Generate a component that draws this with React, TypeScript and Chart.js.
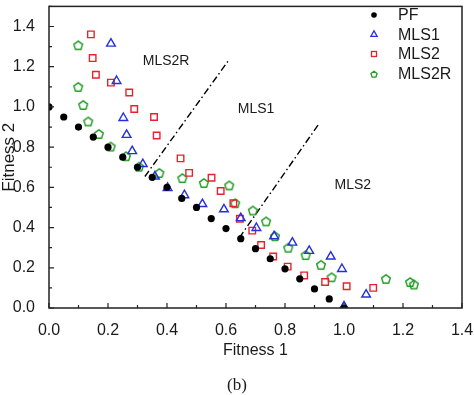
import React, { useEffect, useRef } from "react";
import { Chart, registerables } from "chart.js";

Chart.register(...registerables);

// ---- data ----
const PF_X = [0.0, 0.05, 0.1, 0.15, 0.2, 0.25, 0.3, 0.35, 0.4, 0.45, 0.5, 0.55, 0.6, 0.65, 0.7, 0.75, 0.8, 0.85, 0.9, 0.95, 1.0];
const PF_Y = [1.0, 0.95, 0.9, 0.85, 0.8, 0.75, 0.7, 0.65, 0.6, 0.545, 0.5, 0.445, 0.395, 0.345, 0.295, 0.245, 0.195, 0.145, 0.095, 0.045, 0.0];

const MLS1_X = [0.21, 0.229, 0.252, 0.263, 0.282, 0.318, 0.359, 0.402, 0.459, 0.52, 0.593, 0.65, 0.703, 0.763, 0.825, 0.882, 0.955, 0.993, 1.075, 1.0];
const MLS1_Y = [1.315, 1.129, 0.945, 0.861, 0.78, 0.716, 0.654, 0.597, 0.561, 0.517, 0.491, 0.447, 0.398, 0.357, 0.325, 0.284, 0.256, 0.194, 0.067, 0.008];

const MLS2_X = [0.142, 0.148, 0.159, 0.21, 0.272, 0.289, 0.356, 0.365, 0.446, 0.475, 0.551, 0.582, 0.625, 0.647, 0.689, 0.719, 0.76, 0.809, 0.865, 0.936, 1.009, 1.099];
const MLS2_Y = [1.361, 1.243, 1.16, 1.121, 1.072, 0.99, 0.95, 0.858, 0.744, 0.672, 0.648, 0.582, 0.521, 0.444, 0.385, 0.313, 0.256, 0.206, 0.162, 0.129, 0.108, 0.1];

const MLS2R_X = [0.099, 0.099, 0.116, 0.133, 0.169, 0.209, 0.261, 0.305, 0.374, 0.452, 0.525, 0.611, 0.631, 0.691, 0.736, 0.766, 0.811, 0.87, 0.922, 0.958, 1.142, 1.224, 1.237];
const MLS2R_Y = [1.307, 1.1, 1.01, 0.928, 0.866, 0.803, 0.755, 0.703, 0.672, 0.646, 0.622, 0.61, 0.521, 0.485, 0.431, 0.357, 0.3, 0.263, 0.215, 0.153, 0.145, 0.129, 0.117];

const LINE1_X = [0.325, 0.608];
const LINE1_Y = [0.654, 1.23];
const LINE2_X = [0.645, 0.913];
const LINE2_Y = [0.349, 0.912];

const REGION_LABELS = ["MLS2R", "MLS1", "MLS2"];
const REGION_X = [0.397, 0.702, 1.03];
const REGION_Y = [1.227, 0.989, 0.613];

const SERIES_NAMES = ["PF", "MLS1", "MLS2", "MLS2R"];
const X_TITLE = "Fitness 1";
const Y_TITLE = "Fitness 2";
const CAPTION = "(b)";

// ---- styles ----
const FONT = "'Liberation Sans', Arial, sans-serif";
const BLACK = "#000000";
const BLUE = "#2430e0";
const RED = "#e8222c";
const GREEN = "#1f9a22";
const TEXT = "#1a1a1a";

const pts = (xs: number[], ys: number[]) => xs.map((x, i) => ({ x, y: ys[i] }));

function pentagonPath(ctx: CanvasRenderingContext2D, cx: number, cy: number, r: number) {
  ctx.beginPath();
  for (let i = 0; i < 5; i++) {
    const a = -Math.PI / 2 + (i * 2 * Math.PI) / 5;
    const px = cx + r * Math.cos(a);
    const py = cy + r * Math.sin(a);
    if (i === 0) ctx.moveTo(px, py);
    else ctx.lineTo(px, py);
  }
  ctx.closePath();
}

function makePentagon(r: number, color: string, lw: number) {
  const s = Math.ceil(2 * r + lw * 2 + 2);
  const c = document.createElement("canvas");
  c.width = s;
  c.height = s;
  const ctx = c.getContext("2d")!;
  ctx.strokeStyle = color;
  ctx.lineWidth = lw;
  pentagonPath(ctx, s / 2, s / 2 + 0.5, r);
  ctx.stroke();
  return c;
}

const decorPlugin = {
  id: "decor",
  afterDraw(chart: any) {
    const { ctx, chartArea: a, scales } = chart;
    const xs = scales.x;
    const ys = scales.y;
    ctx.save();
    // frame
    ctx.strokeStyle = "#222";
    ctx.lineWidth = 1.5;
    ctx.strokeRect(a.left, a.top, a.right - a.left, a.bottom - a.top);
    // inward ticks
    ctx.lineWidth = 1.2;
    ctx.beginPath();
    for (let v = 0; v <= 1.4001; v += 0.1) {
      const major = Math.round(v * 10) % 2 === 0;
      const px = xs.getPixelForValue(v);
      ctx.moveTo(px, a.bottom);
      ctx.lineTo(px, a.bottom - (major ? 5 : 3));
    }
    for (let v = 0; v <= 1.5001; v += 0.1) {
      const major = Math.round(v * 10) % 2 === 0;
      const py = ys.getPixelForValue(v);
      ctx.moveTo(a.left, py);
      ctx.lineTo(a.left + (major ? 5 : 3), py);
    }
    ctx.stroke();

    // region labels
    ctx.fillStyle = TEXT;
    ctx.font = `14px ${FONT}`;
    ctx.textAlign = "center";
    ctx.textBaseline = "middle";
    REGION_LABELS.forEach((t, i) => {
      ctx.fillText(t, xs.getPixelForValue(REGION_X[i]), ys.getPixelForValue(REGION_Y[i]));
    });

    // legend
    const lx = 374;
    const rows = [15, 34.5, 54, 74];
    ctx.font = `16px ${FONT}`;
    ctx.textAlign = "left";
    SERIES_NAMES.forEach((name, i) => {
      const y = rows[i];
      ctx.lineWidth = 1.3;
      if (i === 0) {
        ctx.fillStyle = BLACK;
        ctx.beginPath();
        ctx.arc(lx, y, 2.8, 0, Math.PI * 2);
        ctx.fill();
      } else if (i === 1) {
        ctx.strokeStyle = BLUE;
        const r = 3.6;
        ctx.beginPath();
        ctx.moveTo(lx, y - r);
        ctx.lineTo(lx + r * 0.866, y + r * 0.5);
        ctx.lineTo(lx - r * 0.866, y + r * 0.5);
        ctx.closePath();
        ctx.stroke();
      } else if (i === 2) {
        ctx.strokeStyle = RED;
        ctx.strokeRect(lx - 2.5, y - 2.5, 5, 5);
      } else {
        ctx.strokeStyle = GREEN;
        pentagonPath(ctx, lx, y + 0.5, 3.2);
        ctx.stroke();
      }
      ctx.fillStyle = TEXT;
      ctx.fillText(name, 398, y + 1);
    });

    // caption
    ctx.font = `17px 'Liberation Serif', 'Times New Roman', serif`;
    ctx.textAlign = "center";
    ctx.fillStyle = TEXT;
    ctx.fillText(CAPTION, 237, 386);
    ctx.restore();
  },
};

export default function App() {
  const ref = useRef<HTMLCanvasElement | null>(null);

  useEffect(() => {
    if (!ref.current) return;
    const pent = makePentagon(4.6, GREEN, 1.4);
    const lineStyle = {
      type: "line" as const,
      showLine: true,
      borderColor: BLACK,
      borderWidth: 1.4,
      borderDash: [7, 3, 1.5, 3],
      pointRadius: 0,
      fill: false,
    };
    const chart = new Chart(ref.current, {
      type: "scatter",
      data: {
        datasets: [
          {
            label: SERIES_NAMES[0],
            data: pts(PF_X, PF_Y),
            pointStyle: "circle",
            pointRadius: 3.6,
            backgroundColor: BLACK,
            borderColor: BLACK,
            borderWidth: 0,
          },
          {
            label: SERIES_NAMES[1],
            data: pts(MLS1_X, MLS1_Y),
            pointStyle: "triangle",
            pointRadius: 5,
            backgroundColor: "rgba(0,0,0,0)",
            borderColor: BLUE,
            borderWidth: 1.4,
          },
          {
            label: SERIES_NAMES[2],
            data: pts(MLS2_X, MLS2_Y),
            pointStyle: "rect",
            pointRadius: 4.6,
            backgroundColor: "rgba(0,0,0,0)",
            borderColor: RED,
            borderWidth: 1.4,
          },
          {
            label: SERIES_NAMES[3],
            data: pts(MLS2R_X, MLS2R_Y),
            pointStyle: pent as any,
            pointRadius: 5,
            backgroundColor: "rgba(0,0,0,0)",
            borderColor: GREEN,
            borderWidth: 1.4,
          },
          { ...lineStyle, label: "b1", data: pts(LINE1_X, LINE1_Y) } as any,
          { ...lineStyle, label: "b2", data: pts(LINE2_X, LINE2_Y) } as any,
        ],
      },
      options: {
        animation: false,
        responsive: false,
        events: [],
        layout: { padding: { left: 0, right: 12, top: 2, bottom: 0 } },
        plugins: {
          legend: { display: false },
          tooltip: { enabled: false },
        },
        scales: {
          x: {
            type: "linear",
            min: 0,
            max: 1.4,
            grid: { display: false },
            border: { display: false },
            ticks: {
              stepSize: 0.2,
              padding: 5,
              color: TEXT,
              font: { family: FONT, size: 16 },
              callback: (v: any) => Number(v).toFixed(1),
            },
            title: {
              display: true,
              text: X_TITLE,
              color: TEXT,
              font: { family: FONT, size: 16 },
              padding: { top: 0, bottom: 35 },
            },
            afterFit: (s: any) => {
              s.height = 87;
              s.paddingLeft = 0;
              s.paddingRight = 0;
            },
          },
          y: {
            type: "linear",
            min: 0,
            max: 1.5,
            grid: { display: false },
            border: { display: false },
            ticks: {
              stepSize: 0.2,
              includeBounds: false,
              padding: 6,
              color: TEXT,
              font: { family: FONT, size: 16 },
              callback: (v: any) => Number(v).toFixed(1),
            },
            title: {
              display: true,
              text: Y_TITLE,
              color: TEXT,
              font: { family: FONT, size: 17 },
              padding: { top: -1, bottom: 0 },
            },
            afterFit: (s: any) => {
              s.width = 49;
              s.paddingTop = 0;
              s.paddingBottom = 0;
            },
          },
        },
      },
      plugins: [decorPlugin],
    } as any);
    return () => chart.destroy();
  }, []);

  return (
    <div style={{ position: "fixed", left: 0, top: 0, width: 474, height: 395, background: "#fff" }}>
      <canvas ref={ref} width={474} height={395} style={{ display: "block", width: 474, height: 395 }} />
    </div>
  );
}
